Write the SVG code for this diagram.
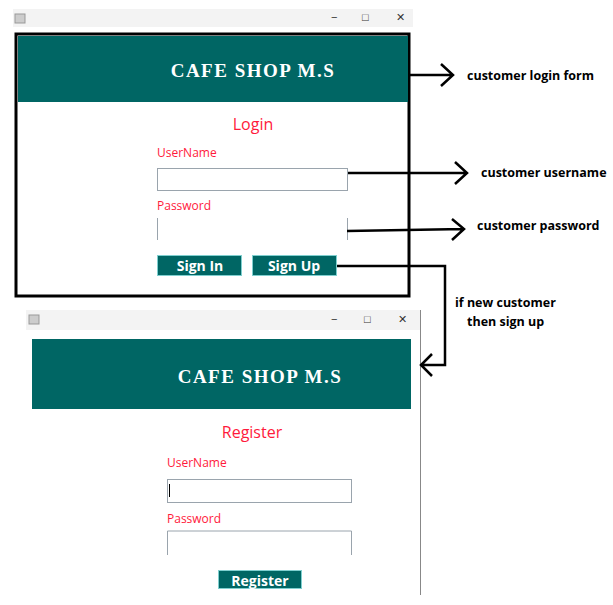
<svg xmlns="http://www.w3.org/2000/svg" width="613" height="605" viewBox="0 0 613 605">
<style>
.tb{fill:#f3f3f3}
.hd{fill:#006664}
.ttl{font-family:"Liberation Serif",serif;font-weight:bold;font-size:19px;fill:#fff;letter-spacing:1.5px;text-anchor:middle}
.red{font-family:"Open Sans","Noto Sans",sans-serif;fill:#ff1a3c}
.inp{fill:#fff;stroke:#9aa4ad;stroke-width:1}
.btn{fill:#006664;stroke:#7fcfcf;stroke-width:1}
.bt{font-family:"Open Sans","Noto Sans",sans-serif;font-weight:bold;font-size:14px;fill:#fff;text-anchor:middle}
.lbl{font-family:"Open Sans","Noto Sans",sans-serif;font-weight:bold;font-size:12.5px;fill:#000}
.ctl{font-family:"Liberation Sans",sans-serif;font-size:11px;fill:#333}
.ln{fill:none;stroke:#000;stroke-width:2.5}
</style>
<rect width="613" height="605" fill="#fff"/>
<g id="login">
<rect class="tb" x="13" y="9" width="400" height="18"/>
<rect x="15" y="14" width="10" height="9" fill="#ccc" stroke="#999"/>
<text class="ctl" x="331" y="21">−</text><text class="ctl" x="362" y="21">□</text><text class="ctl" x="396" y="21">✕</text>
<rect x="16" y="34" width="393" height="262" fill="#fff" stroke="#000" stroke-width="3"/>
<rect class="hd" x="18" y="36" width="390" height="66"/>
<text class="ttl" x="253" y="77">CAFE SHOP M.S</text>
<text class="red" x="253" y="130" font-size="16" text-anchor="middle">Login</text>
<text class="red" x="157" y="157" font-size="12">UserName</text>
<rect class="inp" x="157.5" y="168.5" width="190" height="22"/>
<text class="red" x="157" y="210" font-size="12">Password</text>
<path d="M157.5 218v22M347.5 218v22" stroke="#9aa4ad"/>
<rect class="btn" x="157.5" y="255.5" width="84" height="20"/>
<text class="bt" x="200" y="271">Sign In</text>
<rect class="btn" x="252.5" y="255.5" width="84" height="20"/>
<text class="bt" x="294" y="271">Sign Up</text>
</g>
<g id="register">
<rect class="tb" x="26" y="310" width="394" height="20"/>
<rect x="29" y="315" width="10" height="9" fill="#ccc" stroke="#999"/>
<text class="ctl" x="331" y="323">−</text><text class="ctl" x="364" y="323">□</text><text class="ctl" x="398" y="323">✕</text>
<path d="M420.5 310v285" stroke="#888"/>
<rect class="hd" x="32" y="339" width="379" height="70"/>
<text class="ttl" x="260" y="383">CAFE SHOP M.S</text>
<text class="red" x="252" y="438" font-size="16" text-anchor="middle">Register</text>
<text class="red" x="167" y="467" font-size="12">UserName</text>
<rect class="inp" x="167.5" y="479.5" width="184" height="23"/>
<path d="M169.5 484v13" stroke="#000"/>
<text class="red" x="167" y="523" font-size="12">Password</text>
<path d="M167.5 555v-24h184v24" class="inp"/>
<rect class="btn" x="218.5" y="570.5" width="83" height="18"/>
<text class="bt" x="260" y="586">Register</text>
</g>
<g id="connectors">
<path class="ln" d="M410 75h43M441 64l12 11-12 11"/>
<path class="ln" d="M348 173h119M455 162l12 11-12 11"/>
<path class="ln" d="M347 231l117-2M452 219l12 10-12 11"/>
<path class="ln" d="M337 266h108v99h-24M432 354l-11 11 11 11"/>
</g>
<g id="labels">
<text class="lbl" x="467" y="80">customer login form</text>
<text class="lbl" x="481" y="177">customer username</text>
<text class="lbl" x="477" y="230">customer password</text>
<text class="lbl" x="455" y="307">if new customer</text>
<text class="lbl" x="467" y="326">then sign up</text>
</g>
</svg>
